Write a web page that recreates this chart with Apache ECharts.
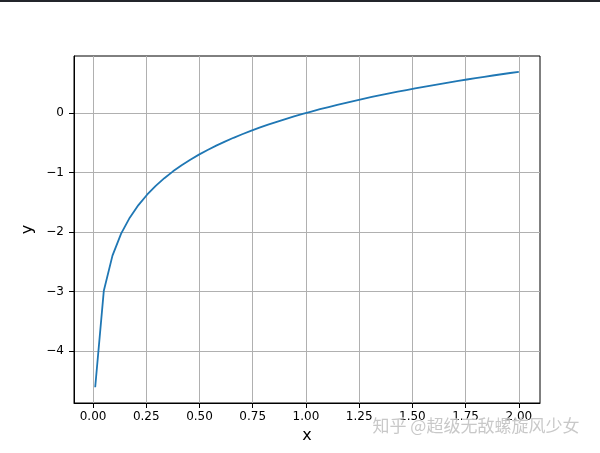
<!DOCTYPE html>
<html><head><meta charset="utf-8">
<script src="https://cdn.jsdelivr.net/npm/echarts@6/dist/echarts.min.js"></script>
<style>html,body{margin:0;padding:0;background:#fff}#c{width:600px;height:453px}</style>
</head><body><div id="c"></div>
<script>
const xValues = [0.01,0.0506,0.0912,0.1318,0.1724,0.2131,0.2537,0.2943,0.3349,0.3755,
0.4161,0.4567,0.4973,0.5380,0.5786,0.6192,0.6598,0.7004,0.7410,0.7816,
0.8222,0.8629,0.9035,0.9441,0.9847,1.0253,1.0659,1.1065,1.1471,1.1878,
1.2284,1.2690,1.3096,1.3502,1.3908,1.4314,1.4720,1.5127,1.5533,1.5939,
1.6345,1.6751,1.7157,1.7563,1.7969,1.8376,1.8782,1.9188,1.9594,2.0];
const yValues = [-4.6052,-2.9836,-2.3945,-2.0262,-1.7577,-1.5462,-1.3717,-1.2232,-1.0940,-0.9795,
-0.8768,-0.7836,-0.6985,-0.6200,-0.5472,-0.4794,-0.4158,-0.3561,-0.2997,-0.2464,
-0.1957,-0.1475,-0.1015,-0.0575,-0.0154,0.0250,0.0638,0.1012,0.1373,0.1721,
0.2057,0.2382,0.2697,0.3002,0.3299,0.3586,0.3866,0.4138,0.4403,0.4662,
0.4913,0.5159,0.5398,0.5632,0.5861,0.6084,0.6303,0.6517,0.6726,0.6931];
const xTicks = [0,0.25,0.5,0.75,1.0,1.25,1.5,1.75,2.0];
const xTickLabels = ['0.00','0.25','0.50','0.75','1.00','1.25','1.50','1.75','2.00'];
const yTicks = [-4,-3,-2,-1,0];
const yTickLabels = ['\u22124','\u22123','\u22122','\u22121','0'];
const xName = 'x', yName = 'y';
const watermark = '知乎 @超级无敌螺旋风少女';

const chart = echarts.init(document.getElementById('c'), null, {renderer:'canvas'});
const lab = {fontFamily:'DejaVu Sans', fontSize:12, color:'#000'};
chart.setOption({
  animation:false,
  backgroundColor:'#fff',
  grid:{left:74, right:60, top:56, bottom:50, show:true, borderColor:'#000', borderWidth:1, containLabel:false},
  xAxis:{type:'value', min:-0.0895, max:2.0995,
    name:xName, nameLocation:'middle', nameGap:25,
    nameTextStyle:{fontFamily:'DejaVu Sans', fontSize:16, color:'#000'},
    axisLine:{show:true, onZero:false, lineStyle:{color:'#000', width:1}},
    axisTick:{show:true, inside:false, length:5, customValues:xTicks, lineStyle:{color:'#000'}},
    axisLabel:Object.assign({customValues:xTicks, margin:8,
      formatter:v=>{const i=xTicks.findIndex(t=>Math.abs(t-v)<1e-6);return i>=0?xTickLabels[i]:'';}}, lab),
    splitLine:{show:true, lineStyle:{color:'#b0b0b0', width:1}}
  },
  yAxis:{type:'value', min:-4.870, max:0.958,
    name:yName, nameLocation:'middle', nameGap:33, nameRotate:90,
    nameTextStyle:{fontFamily:'DejaVu Sans', fontSize:16, color:'#000'},
    axisLine:{show:true, onZero:false, lineStyle:{color:'#000', width:1}},
    axisTick:{show:true, inside:false, length:5, customValues:yTicks, lineStyle:{color:'#000'}},
    axisLabel:Object.assign({customValues:yTicks, margin:10,
      formatter:v=>{const i=yTicks.findIndex(t=>Math.abs(t-v)<1e-6);return i>=0?yTickLabels[i]:'';}}, lab),
    splitLine:{show:true, lineStyle:{color:'#b0b0b0', width:1}}
  },
  series:[{type:'line', data:xValues.map((x,i)=>[x,yValues[i]]), showSymbol:false, symbol:'none',
    lineStyle:{color:'#1f77b4', width:1.8}, smooth:false}],
  graphic:[
    {type:'rect', shape:{x:0,y:0,width:600,height:2}, style:{fill:'#23252b'}},
    {type:'text', left:372, top:417, z:100, style:{text:watermark, font:'17px "Noto Sans CJK SC"', fill:'rgba(190,190,190,0.85)', stroke:'rgba(255,255,255,0.6)', lineWidth:1}}
  ]
});
</script></body></html>
